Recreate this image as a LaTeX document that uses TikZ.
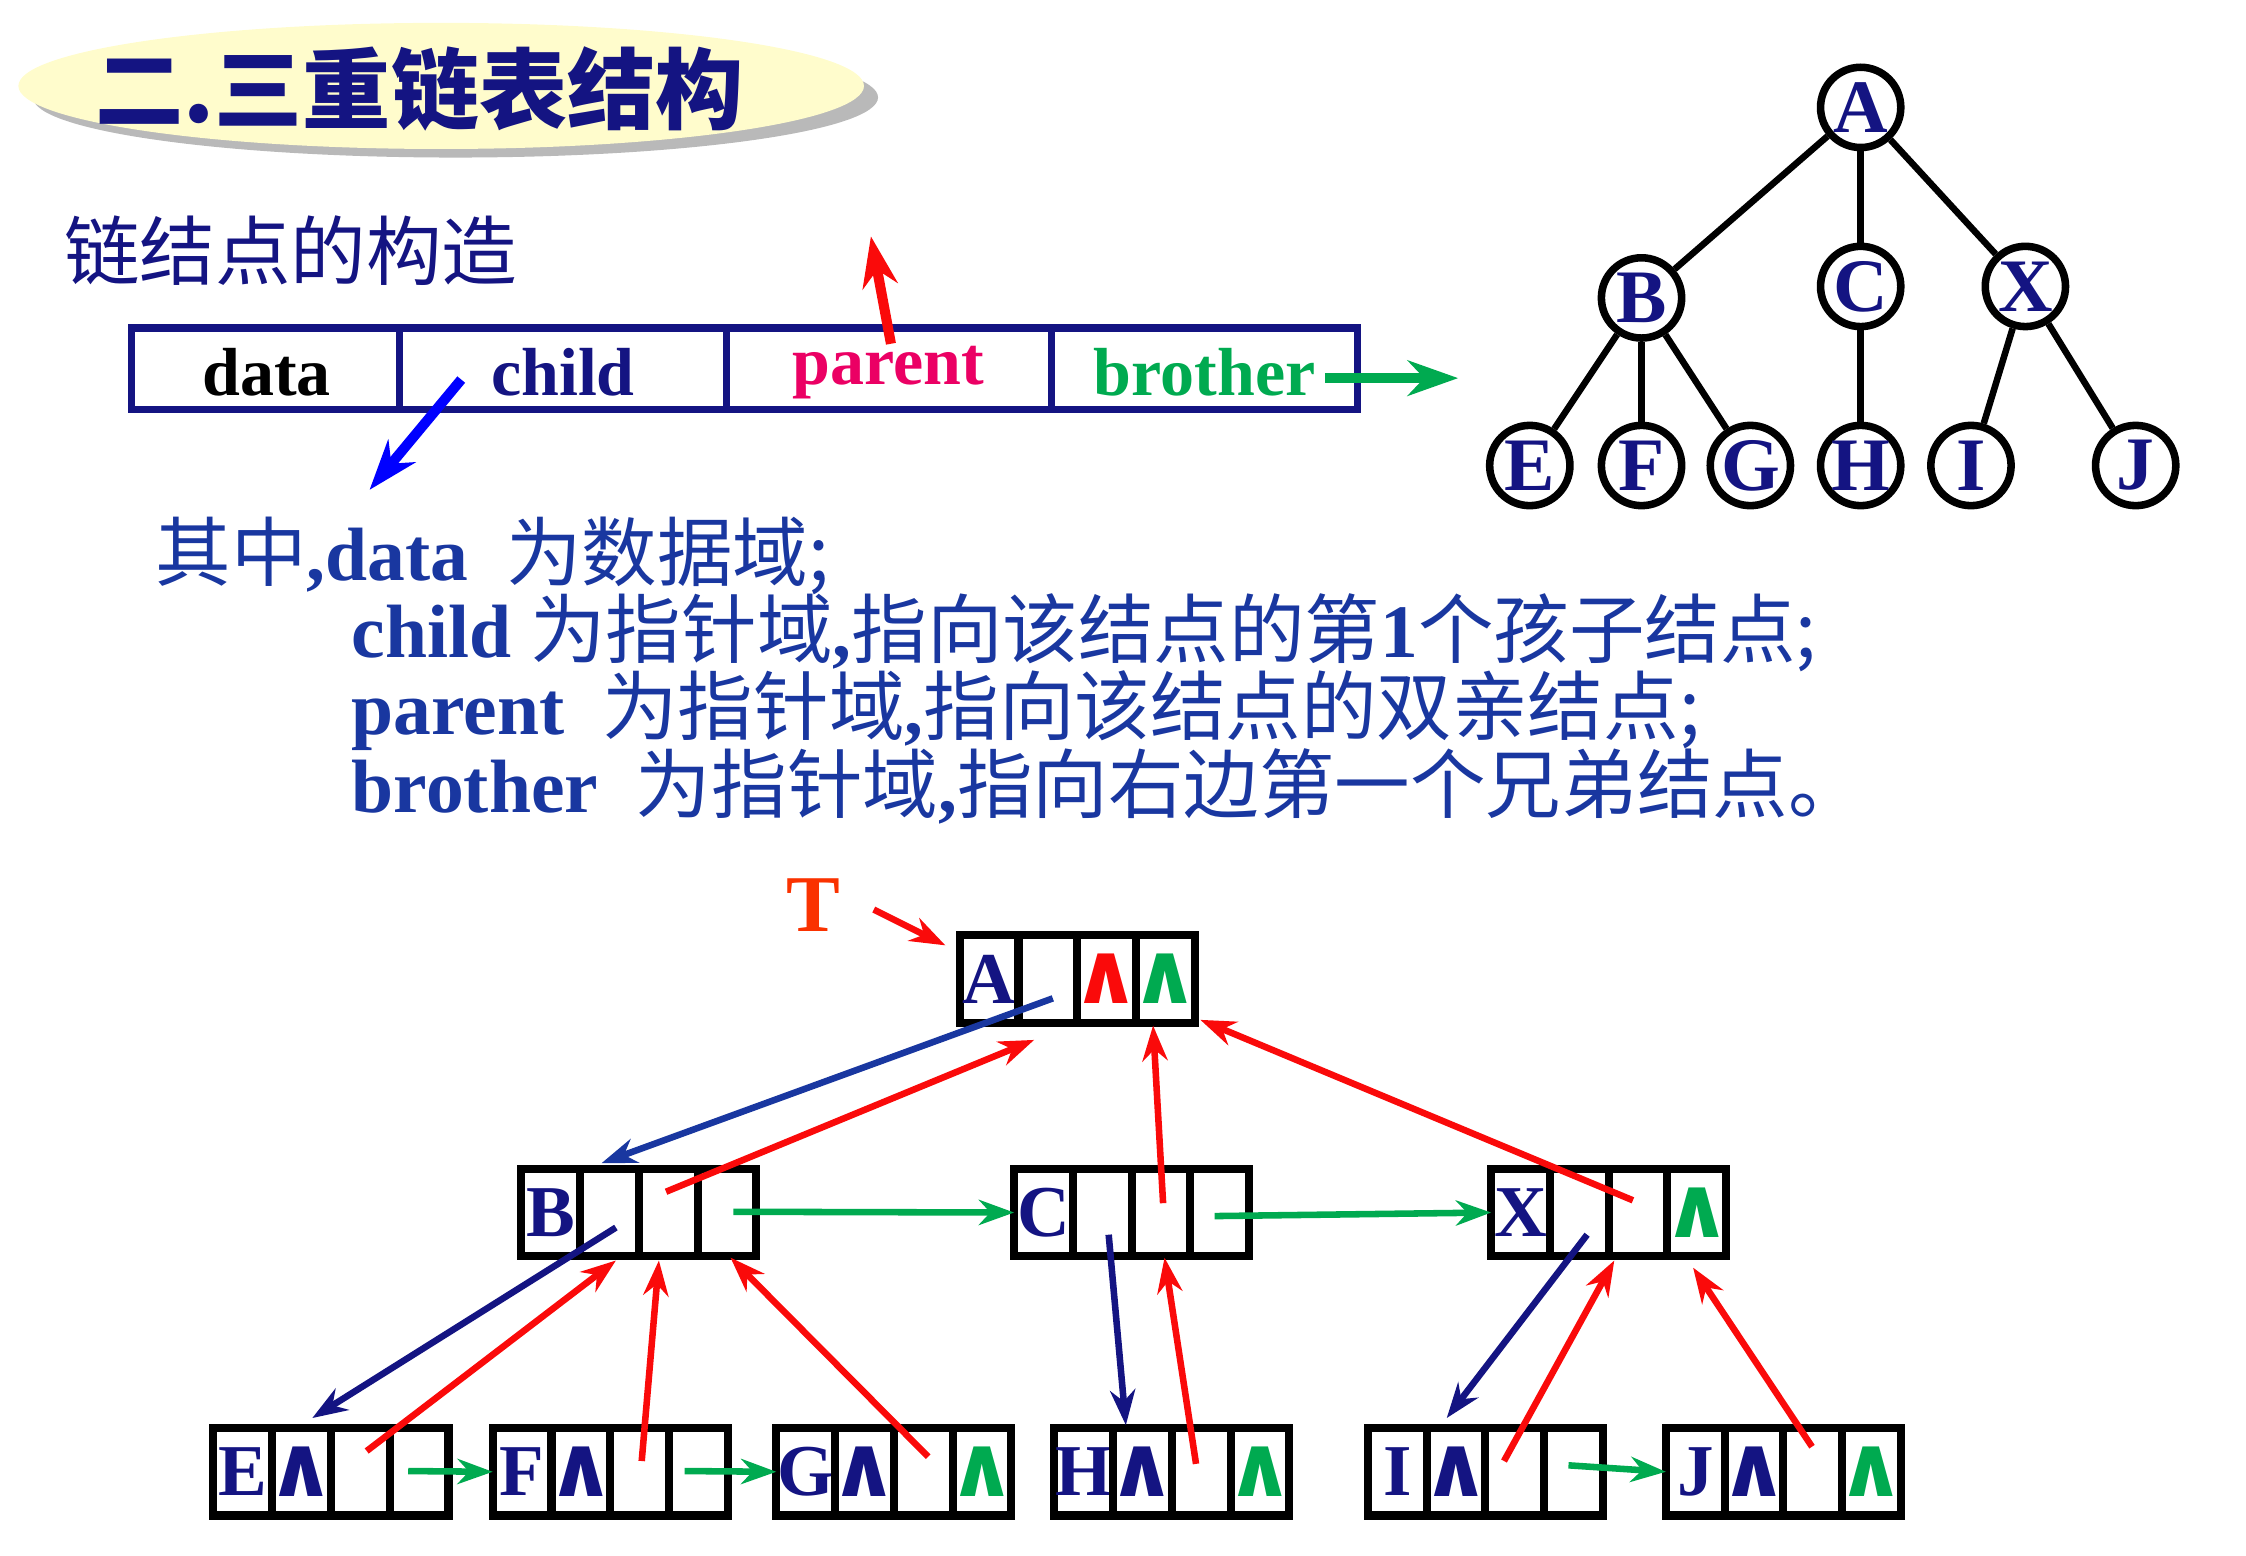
\documentclass[tikz,border=0pt]{standalone}
\usepackage{fontspec}
\setmainfont{Liberation Serif}
\newfontfamily\cjk{Noto Sans CJK SC}
\newfontfamily\dv{DejaVu Sans}
\usetikzlibrary{arrows.meta,shapes.geometric}
\definecolor{navy}{RGB}{20,20,130}
\definecolor{tblue}{RGB}{25,55,160}
\definecolor{pred}{RGB}{235,0,100}
\definecolor{grn}{RGB}{0,170,80}
\definecolor{ared}{RGB}{250,10,10}
\definecolor{tred}{RGB}{250,50,0}
\begin{document}
\begin{tikzpicture}[x=0.01cm,y=-0.01cm,
  cell/.style={draw=black,line width=1.6pt,minimum width=0.41cm,minimum height=0.61cm,inner sep=0pt,outer sep=0pt,font=\fontsize{14.5}{14.5}\bfseries\selectfont,text=navy},
  tn/.style={circle,draw=black,line width=1.5pt,minimum size=0.56cm,inner sep=0pt,font=\fontsize{15}{15}\bfseries\selectfont,text=navy},
  te/.style={line width=1.3pt},
  ra/.style={-{Stealth[length=7pt,width=5pt]},ared,line width=1.3pt},
  ba/.style={-{Stealth[length=7pt,width=5pt]},navy,line width=1.3pt},
  ga/.style={-{Stealth[length=7pt,width=5pt]},grn,line width=1.3pt},
  wg/.style={font=\fontsize{17}{17}\dv\bfseries},
  ln/.style={anchor=base west,text=tblue,font=\fontsize{15}{18}\bfseries\selectfont,inner sep=0pt}]
\useasboundingbox (0,0) rectangle (1568,1086);
% title
\fill[gray!55] (318,68) ellipse (295 and 42);
\node[ellipse,fill=yellow!20,minimum width=5.9cm,minimum height=0.88cm] (tt) at (308,60) {};
\node[text=navy,font=\fontsize{17.5}{17.5}\cjk\bfseries] (title) at (293,62) {二.三重链表结构};
\node[text=navy,font=\fontsize{15}{15}\cjk,anchor=west,inner sep=0pt] (sub) at (44,175) {链结点的构造};
% structure
\draw[line width=1.4pt,draw=navy] (92,229) rectangle (948,286);
\foreach \x in {279,507,734} \draw[line width=1.4pt,draw=navy] (\x,229)--(\x,286);
\node[font=\fontsize{13.5}{13.5}\bfseries\selectfont] (d) at (186,260) {data};
\node[font=\fontsize{13.5}{13.5}\bfseries\selectfont,text=navy] (ch) at (393,260) {child};
\node[font=\fontsize{13.5}{13.5}\bfseries\selectfont,text=pred] (pa) at (620,260) {parent};
\node[font=\fontsize{13.5}{13.5}\bfseries\selectfont,text=grn] (br) at (841,260) {brother};
\coordinate (pe) at (608,165); \coordinate (ce) at (258,342); \coordinate (be) at (1018,264);
\draw[-{Stealth[length=10pt,width=7pt]},ared,line width=2pt] (622,240)--(pe);
\draw[-{Stealth[length=10pt,width=7pt]},blue,line width=2pt] (322,265)--(ce);
\draw[-{Stealth[length=10pt,width=7pt]},grn,line width=2pt] (925,264)--(be);
% tree
\node[tn] (tA) at (1299,75) {A};
\node[tn] (tB) at (1146,208) {B};
\node[tn] (tC) at (1299,200) {C};
\node[tn] (tX) at (1414,200) {X};
\node[tn] (tE) at (1068,325) {E};
\node[tn] (tF) at (1146,325) {F};
\node[tn] (tG) at (1222,325) {G};
\node[tn] (tH) at (1299,325) {H};
\node[tn] (tI) at (1376,325) {I};
\node[tn] (tJ) at (1491,325) {J};
\foreach \a/\b in {tA/tB,tA/tC,tA/tX,tB/tE,tB/tF,tB/tG,tC/tH,tX/tI,tX/tJ} \draw[te] (\a)--(\b);
% description
\node[ln] (l1) at (108,405) {{\cjk\mdseries 其中}{,}data\ \ {\cjk\mdseries 为数据域;}};
\node[ln] (l2) at (245,459) {child {\cjk\mdseries 为指针域}{,}{\cjk\mdseries 指向该结点的第}1{\cjk\mdseries 个孩子结点;}};
\node[ln] (l3) at (245,513) {parent\ \ {\cjk\mdseries 为指针域}{,}{\cjk\mdseries 指向该结点的双亲结点;}};
\node[ln] (l4) at (245,567) {brother\ \ {\cjk\mdseries 为指针域}{,}{\cjk\mdseries 指向右边第一个兄弟结点。}};
% records
\newcommand{\rec}[4]{%
 \node[cell,anchor=north west] (#1-1) at (#2,#3) {#4};
 \node[cell,anchor=west] (#1-2) at (#1-1.east) {};
 \node[cell,anchor=west] (#1-3) at (#1-2.east) {};
 \node[cell,anchor=west] (#1-4) at (#1-3.east) {};}
\rec{A}{670}{653}{A}
\rec{B}{364}{816}{B}
\rec{C}{708}{816}{C}
\rec{X}{1041}{816}{X}
\rec{E}{149}{997}{E}
\rec{F}{344}{997}{F}
\rec{G}{542}{997}{G}
\rec{H}{736}{997}{H}
\rec{I}{955}{997}{I}
\rec{J}{1163}{997}{J}
\node[wg,text=ared] (wa3) at (A-3) {∧};
\node[wg,text=grn] (wa4) at (A-4) {∧};
\node[wg,text=grn] (wx4) at (X-4) {∧};
\foreach \n in {E,F,G,H,I,J} \node[wg,text=navy] at (\n-2) {∧};
\foreach \n in {G,H,J} \node[wg,text=grn] at (\n-4) {∧};
% T
\node[text=tred,font=\fontsize{16}{16}\bfseries\selectfont] (T) at (568,632) {T};
\draw[ra] (610,635)--(660,660);
% arrows
\draw[-{Stealth[length=7pt,width=5pt]},tblue,line width=1.3pt] (735,697)--(420,812);
\draw[ra] (465,832)--(722,726);
\draw[ra] (812,840)--(805,716);
\draw[ra] (1140,838)--(838,712);
\draw[ga] (512,846)--(C-1.west);
\draw[ga] (848,849)--(X-1.west);
\draw[ba] (430,857)--(218,990);
\draw[ra] (256,1013)--(430,880);
\draw[ra] (448,1020)--(460,880);
\draw[ra] (648,1017)--(510,878);
\draw[ba] (774,862)--(786,995);
\draw[ra] (835,1022)--(813,878);
\draw[ba] (1108,862)--(1010,990);
\draw[ra] (1050,1020)--(1127,880);
\draw[ra] (1265,1010)--(1182,885);
\draw[ga] (285,1027)--(F-1.west);
\draw[ga] (478,1027)--(G-1.west);
\draw[ga] (1095,1023)--(J-1.west);
\end{tikzpicture}
\end{document}
